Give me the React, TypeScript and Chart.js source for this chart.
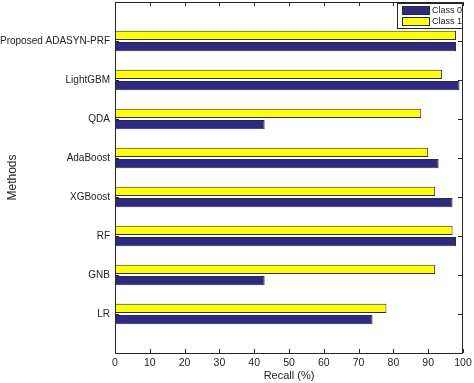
import React, { useEffect, useRef } from 'react';
import { Chart, registerables } from 'chart.js';

Chart.register(...registerables);

// Categories listed top to bottom as they appear in the figure
const methods = ['Proposed ADASYN-PRF', 'LightGBM', 'QDA', 'AdaBoost', 'XGBoost', 'RF', 'GNB', 'LR'];
const class0Recall = [98, 99, 43, 93, 97, 98, 43, 74];
const class1Recall = [98, 94, 88, 90, 92, 97, 92, 78];
const seriesNames = ['Class 0', 'Class 1'];
const xTickValues = [0, 10, 20, 30, 40, 50, 60, 70, 80, 90, 100];

const NAVY = 'rgb(46,40,135)';
const YELLOW = 'rgb(255,255,0)';
const EDGE = '#2b2b2b';
const AXIS = '#262626';
const FONT = "'Liberation Sans', Arial, sans-serif";

const padded = (arr: number[]) => [null, ...arr, null];

const boxPlugin = {
  id: 'matlabBox',
  afterDatasetsDraw(chart: any) {
    const { ctx, chartArea, scales } = chart;
    const { left, right, top, bottom } = chartArea;
    ctx.save();
    ctx.strokeStyle = AXIS;
    ctx.lineWidth = 1;
    ctx.beginPath();
    ctx.rect(Math.round(left) + 0.5, Math.round(top) + 0.5, Math.round(right - left) - 1, Math.round(bottom - top));
    ctx.stroke();
    const tl = 4;
    ctx.beginPath();
    for (let i = 1; i <= methods.length; i++) {
      const py = Math.round(scales.y.getPixelForValue(i)) + 0.5;
      ctx.moveTo(left, py);
      ctx.lineTo(left + tl, py);
      ctx.moveTo(right - 1, py);
      ctx.lineTo(right - 1 - tl, py);
    }
    for (const v of xTickValues) {
      const px = Math.round(scales.x.getPixelForValue(v)) + 0.5;
      ctx.moveTo(px, bottom);
      ctx.lineTo(px, bottom - tl);
      ctx.moveTo(px, top);
      ctx.lineTo(px, top + tl);
    }
    ctx.stroke();

    // legend box (inside, top-right)
    const bx = 397.5, by = 3.5, bw = 65, bh = 25;
    ctx.fillStyle = '#ffffff';
    ctx.fillRect(bx, by, bw, bh);
    ctx.strokeStyle = AXIS;
    ctx.strokeRect(bx, by, bw, bh);
    const entries = [
      { label: seriesNames[0], color: NAVY },
      { label: seriesNames[1], color: YELLOW },
    ];
    ctx.font = `9px ${FONT}`;
    ctx.textBaseline = 'middle';
    ctx.textAlign = 'left';
    entries.forEach((e, i) => {
      const sy = 6.5 + i * 11;
      ctx.fillStyle = e.color;
      ctx.fillRect(402.5, sy, 27, 8);
      ctx.strokeStyle = EDGE;
      ctx.strokeRect(402.5, sy, 27, 8);
      ctx.fillStyle = '#222';
      ctx.fillText(e.label, 432, sy + 4.5);
    });
    ctx.restore();
  },
};

export default function App() {
  const ref = useRef<HTMLCanvasElement | null>(null);
  useEffect(() => {
    document.body.style.margin = '0';
    const canvas = ref.current;
    if (!canvas) return;
    const chart = new Chart(canvas, {
      type: 'bar',
      data: {
        labels: ['', ...methods, ''],
        datasets: [
          {
            label: seriesNames[1],
            data: padded(class1Recall) as any,
            backgroundColor: YELLOW,
            borderColor: EDGE,
            borderWidth: 1,
            categoryPercentage: 0.58,
            barPercentage: 0.82,
          },
          {
            label: seriesNames[0],
            data: padded(class0Recall) as any,
            backgroundColor: NAVY,
            borderColor: EDGE,
            borderWidth: 1,
            categoryPercentage: 0.58,
            barPercentage: 0.82,
          },
        ],
      },
      options: {
        indexAxis: 'y',
        responsive: false,
        animation: false,
        layout: { padding: { top: 2, right: 11, left: 0, bottom: 0 } },
        plugins: {
          legend: { display: false },
          tooltip: { enabled: false },
        },
        scales: {
          x: {
            type: 'linear',
            min: 0,
            max: 100,
            grid: { display: false, drawTicks: false },
            border: { display: false },
            ticks: {
              stepSize: 10,
              padding: 4,
              color: '#222',
              font: { family: FONT, size: 10.5 },
              maxRotation: 0,
            },
            title: {
              display: true,
              text: 'Recall (%)',
              color: '#222',
              font: { family: FONT, size: 11 },
              padding: { top: 0, bottom: 0 },
            },
            afterFit: (s: any) => {
              s.height = 30;
              s.paddingLeft = 0;
              s.paddingRight = 0;
            },
          },
          y: {
            type: 'category',
            offset: false,
            grid: { display: false, drawTicks: false },
            border: { display: false },
            ticks: {
              autoSkip: false,
              padding: 5,
              color: '#222',
              font: { family: FONT, size: 10 },
            },
            title: {
              display: true,
              text: 'Methods',
              color: '#222',
              font: { family: FONT, size: 12 },
              padding: { top: 5, bottom: 0 },
            },
            afterFit: (s: any) => {
              s.width = 115;
              s.paddingTop = 0;
              s.paddingBottom = 0;
            },
          },
        },
      },
      plugins: [boxPlugin],
    });
    return () => chart.destroy();
  }, []);
  return <canvas ref={ref} width={474} height={383} style={{ display: 'block' }} />;
}
